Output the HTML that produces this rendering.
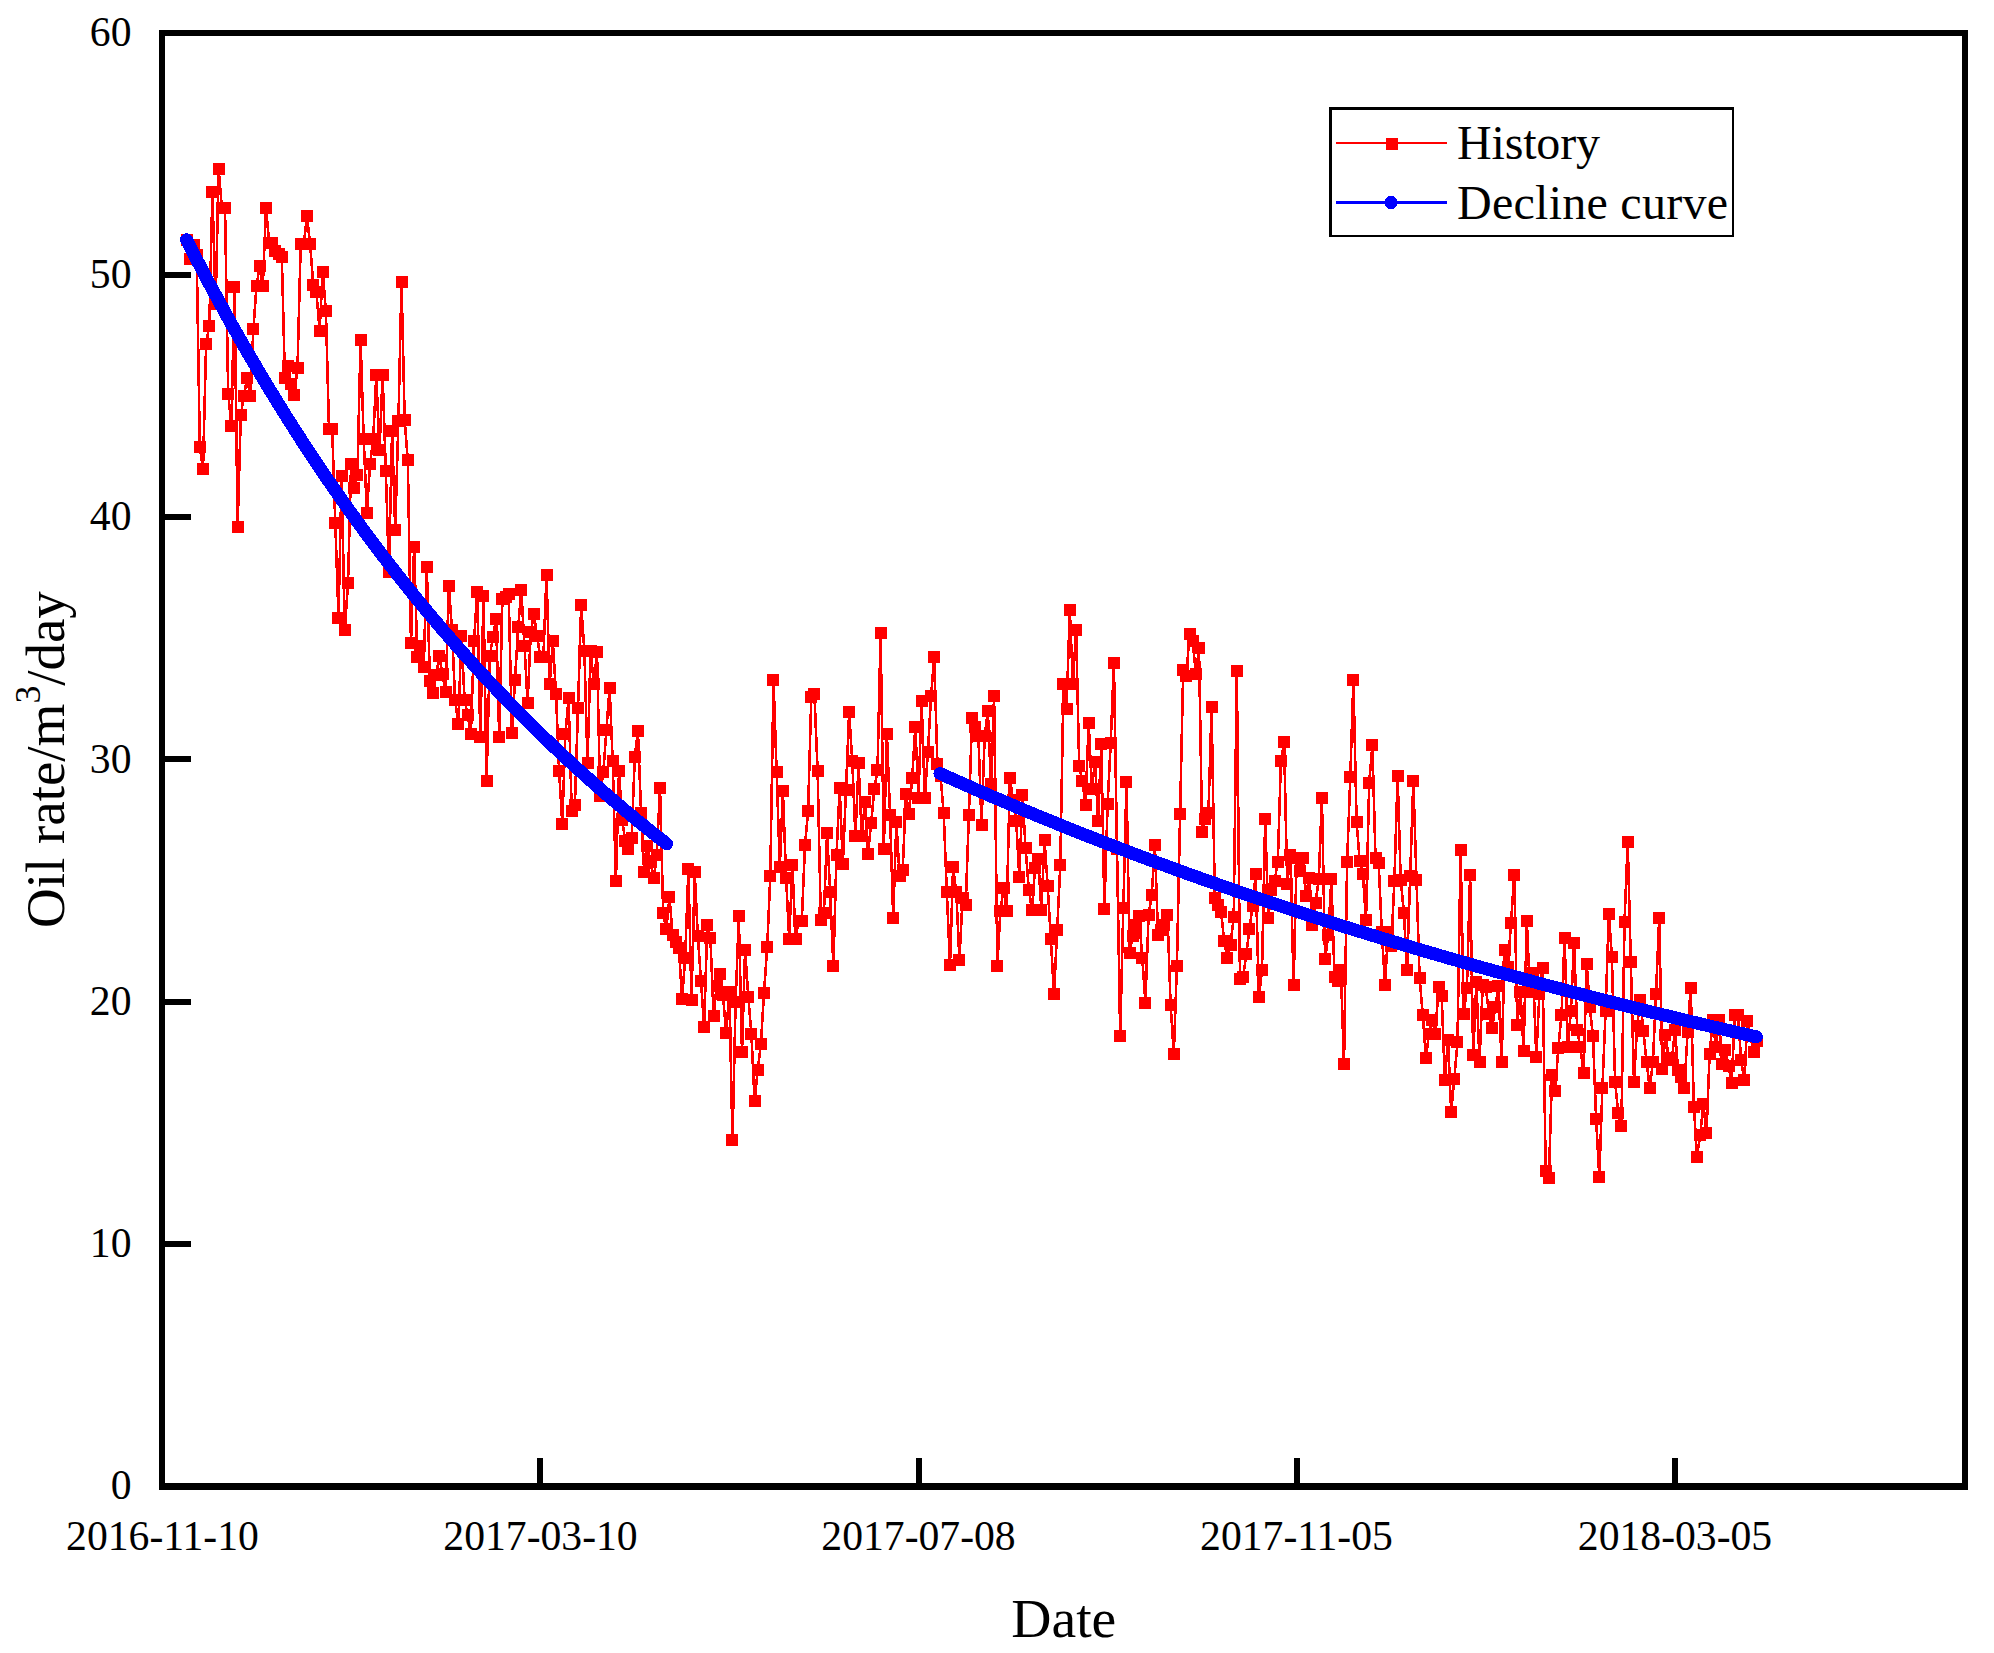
<!DOCTYPE html>
<html><head><meta charset="utf-8"><title>Oil rate decline curve</title>
<style>
html,body{margin:0;padding:0;background:#fff;}
svg{display:block;}
text{font-family:"Liberation Serif",serif;fill:#000;}
</style></head>
<body>
<svg width="1994" height="1653" viewBox="0 0 1994 1653">
<rect width="1994" height="1653" fill="#fff"/>
<g shape-rendering="crispEdges">
<polyline points="187.2,240 190.4,258.9 193.5,245.3 196.7,255.1 199.8,447.2 203,468.9 206.1,344 209.3,326.2 212.4,192.3 215.6,304.5 218.7,169.4 221.9,207.9 225,207.9 228.2,394.2 231.3,425.5 234.5,286.9 237.6,526.9 240.8,415 243.9,395.7 247.1,378.3 250.2,395.7 253.4,328.9 256.5,285.9 259.7,266 262.8,285.9 266,207.9 269.2,243.3 272.3,243.3 275.5,250.6 278.6,254.3 281.8,256.6 284.9,378.3 288.1,365.9 291.2,383.6 294.4,395.3 297.5,367.8 300.7,243.9 303.8,243.9 307,216.1 310.1,243.9 313.3,285 316.4,291.8 319.6,330.7 322.7,271.9 325.9,311 329,429 332.2,429 335.3,522.8 338.5,617.6 341.6,475.9 344.8,629.7 348,583.1 351.1,464.1 354.3,488 357.4,474.7 360.6,339.9 363.7,439.1 366.9,512.9 370,464.1 373.2,439.1 376.3,374.9 379.5,450.5 382.6,374.9 385.8,470.9 388.9,571.5 392.1,430.8 395.2,529.9 398.4,421 401.5,281.9 404.7,420.2 407.8,460.3 411,642.8 414.1,546.8 417.3,657.2 420.4,645.9 423.6,667 426.8,566.9 429.9,681.4 433.1,692.7 436.2,674.6 439.4,656.4 442.5,674.2 445.7,692 448.8,586.1 452,629.8 455.1,700.3 458.3,723.7 461.4,635.9 464.6,700.3 467.7,715.4 470.9,733.6 474,641.3 477.2,592.2 480.3,736.6 483.5,596 486.6,780.7 489.8,655.7 492.9,637.3 496.1,618.9 499.2,736.6 502.4,599 505.6,596.6 508.7,594.1 511.9,732.8 515,679.9 518.2,626.9 521.3,589.9 524.5,646.4 527.6,702.9 530.8,632.2 533.9,614.1 537.1,636 540.2,656.7 543.4,656.7 546.5,575.1 549.7,683.7 552.8,641 556,693.9 559.1,771.4 562.3,823.7 565.4,734.3 568.6,698 571.7,810.8 574.9,805.1 578,707.5 581.2,605 584.4,651.1 587.5,762.6 590.7,651.1 593.8,683.7 597,651.9 600.1,795.7 603.3,772.2 606.4,730 609.6,687.9 612.7,760.8 615.9,881.1 619,771.4 622.2,819.9 625.3,841.1 628.5,848.6 631.6,838 634.8,757 637.9,730.8 641.1,813.1 644.2,872.1 647.4,845.6 650.5,861.9 653.7,878.1 656.8,854.7 660,788.1 663.2,913.4 666.3,928.8 669.5,897 672.6,934.8 675.8,942.4 678.9,948.4 682.1,999.1 685.2,957.5 688.4,869 691.5,999.8 694.7,872.1 697.8,936.3 701,980.9 704.1,1026.8 707.3,925 710.4,937.9 713.6,1015.8 716.7,985.6 719.9,974.1 723,995.2 726.2,1033.3 729.3,992 732.5,1140.3 735.6,1002.2 738.8,915.9 742,1051.8 745.1,949.9 748.3,996.8 751.4,1033.8 754.6,1100.9 757.7,1070.4 760.9,1043.9 764,993 767.2,946.9 770.3,875.9 773.5,680 776.6,771.5 779.8,867 782.9,791 786.1,877.7 789.2,938.9 792.4,865 795.5,938.9 798.7,920.9 801.8,920.9 805,844.9 808.1,810.8 811.3,696.8 814.4,694.1 817.6,770.6 820.8,919.7 823.9,912.9 827.1,833 830.2,892.5 833.4,966.3 836.5,854.9 839.7,788.1 842.8,864.5 846,790 849.1,712.5 852.3,761.4 855.4,836.5 858.6,763.2 861.7,836.2 864.9,802.2 868,853.9 871.2,822.6 874.3,788.9 877.5,770.2 880.6,632.9 883.8,848.6 886.9,733.9 890.1,815.1 893.2,917.9 896.4,821.9 899.6,875.9 902.7,870 905.9,793.9 909,813.9 912.2,778 915.3,726.6 918.5,797.7 921.6,700.9 924.8,797.7 927.9,751.6 931.1,696.1 934.2,657 937.4,763.7 940.5,775.8 943.7,812.8 946.8,892.1 950,964.8 953.1,867.2 956.3,892.1 959.4,959.8 962.6,897.8 965.7,905.1 968.9,815.1 972,718 975.2,726.8 978.4,735.7 981.5,824.9 984.7,735.7 987.8,710.7 991,784.1 994.1,696.1 997.3,965.9 1000.4,911 1003.6,888 1006.7,911 1009.9,778 1013,799.6 1016.2,821.1 1019.3,876.9 1022.5,795.4 1025.6,848.3 1028.8,889.8 1031.9,909.9 1035.1,867.6 1038.2,858.9 1041.4,910.1 1044.5,840 1047.7,886 1050.8,939.1 1054,993.9 1057.2,929.5 1060.3,865.2 1063.5,683.8 1066.6,709 1069.8,610 1072.9,683.5 1076.1,630.1 1079.2,765.9 1082.4,780.8 1085.5,804.7 1088.7,723.1 1091.8,788.9 1095,761.9 1098.1,820.6 1101.3,743.9 1104.4,908.9 1107.6,804 1110.7,743.2 1113.9,662.9 1117,849.4 1120.2,1035.9 1123.3,908.5 1126.5,782 1129.6,952.9 1132.8,935.7 1136,924.8 1139.1,916.1 1142.3,958.1 1145.4,1002.9 1148.6,914.8 1151.7,895 1154.9,845.1 1158,935.1 1161.2,930.2 1164.3,925.3 1167.5,915 1170.6,1005 1173.8,1053.8 1176.9,965.8 1180.1,813.8 1183.2,670.1 1186.4,676.2 1189.5,633.9 1192.7,640.7 1195.8,673.9 1199,648.2 1202.1,832.5 1205.3,819.1 1208.4,813 1211.6,707.2 1214.8,898 1217.9,905 1221.1,912 1224.2,941.1 1227.4,957.8 1230.5,944.9 1233.7,916.9 1236.8,670.9 1240,978.9 1243.1,977.4 1246.3,954 1249.4,929 1252.6,905.6 1255.7,873.9 1258.9,997.1 1262,969.9 1265.2,819.1 1268.3,917.7 1271.5,890.5 1274.6,880.7 1277.8,862.1 1280.9,760.9 1284.1,742 1287.2,883.7 1290.4,855 1293.6,985 1296.7,858 1299.9,870.8 1303,858 1306.2,896.5 1309.3,878.4 1312.5,925.3 1315.6,902.6 1318.8,878.7 1321.9,797.9 1325.1,959.3 1328.2,935.4 1331.4,878.9 1334.5,977.1 1337.7,981.1 1340.8,969.8 1344,1063.6 1347.1,862.2 1350.3,777 1353.4,679.9 1356.6,821.9 1359.7,860.9 1362.9,874 1366,919.9 1369.2,782.8 1372.4,745 1375.5,857.9 1378.7,862.9 1381.8,932 1385,984.9 1388.1,932 1391.3,945.6 1394.4,880.9 1397.6,776 1400.7,879.8 1403.9,912.6 1407,969.8 1410.2,876.2 1413.3,780.8 1416.5,879.5 1419.6,978.1 1422.8,1015.2 1425.9,1058 1429.1,1033.6 1432.2,1020 1435.4,1033.6 1438.5,987.2 1441.7,995.8 1444.8,1079.9 1448,1040.1 1451.2,1111.5 1454.3,1078.7 1457.5,1041.9 1460.6,849.9 1463.8,1014 1466.9,987.9 1470.1,875.1 1473.2,1054.8 1476.4,981.9 1479.5,1062 1482.7,984.9 1485.8,987.2 1489,1013.7 1492.1,1028 1495.3,1007.2 1498.4,986.4 1501.6,1062 1504.7,950.1 1507.9,966.8 1511,922.9 1514.2,875.1 1517.3,1025 1520.5,991.7 1523.6,1050.7 1526.8,921 1530,992.5 1533.1,972.8 1536.3,1056.9 1539.4,994 1542.6,968 1545.7,1170.9 1548.9,1177.7 1552,1074.9 1555.2,1090.8 1558.3,1048 1561.5,1014.8 1564.6,938 1567.8,1047.2 1570.9,1010.7 1574.1,943 1577.2,1030.3 1580.4,1047.1 1583.5,1072.8 1586.7,964.2 1589.8,1007.1 1593,1036.5 1596.1,1119 1599.3,1176.9 1602.4,1087.7 1605.6,1010.9 1608.8,913.9 1611.9,957 1615.1,1082 1618.2,1112.7 1621.4,1125.8 1624.5,921.9 1627.7,841.9 1630.8,961.8 1634,1081.7 1637.1,1025.8 1640.3,1000.2 1643.4,1031.2 1646.6,1062.3 1649.7,1087.7 1652.9,1062 1656,993.8 1659.2,918.1 1662.3,1068.8 1665.5,1034.9 1668.6,1057.5 1671.8,1060.5 1674.9,1030.4 1678.1,1069.6 1681.2,1077.1 1684.4,1087.7 1687.6,1032.2 1690.7,987.8 1693.9,1106.6 1697,1156.8 1700.2,1134.6 1703.3,1103.9 1706.5,1133.1 1709.6,1054.4 1712.8,1019.9 1715.9,1046.9 1719.1,1019.9 1722.2,1063.8 1725.4,1049.9 1728.5,1066.4 1731.7,1082.9 1734.8,1015.2 1738,1014.9 1741.1,1059.7 1744.3,1079.8 1747.4,1020.7 1750.6,1036.5 1753.7,1052.2 1756.9,1040.8" fill="none" stroke="#f00" stroke-width="2.6" stroke-linejoin="round"/>
<path d="M181 234h12v12h-12zM184 253h12v12h-12zM188 239h12v12h-12zM191 249h12v12h-12zM194 441h12v12h-12zM197 463h12v12h-12zM200 338h12v12h-12zM203 320h12v12h-12zM206 186h12v12h-12zM210 298h12v12h-12zM213 163h12v12h-12zM216 202h12v12h-12zM219 202h12v12h-12zM222 388h12v12h-12zM225 420h12v12h-12zM228 281h12v12h-12zM232 521h12v12h-12zM235 409h12v12h-12zM238 390h12v12h-12zM241 372h12v12h-12zM244 390h12v12h-12zM247 323h12v12h-12zM251 280h12v12h-12zM254 260h12v12h-12zM257 280h12v12h-12zM260 202h12v12h-12zM263 237h12v12h-12zM266 237h12v12h-12zM269 245h12v12h-12zM273 248h12v12h-12zM276 251h12v12h-12zM279 372h12v12h-12zM282 360h12v12h-12zM285 378h12v12h-12zM288 389h12v12h-12zM292 362h12v12h-12zM295 238h12v12h-12zM298 238h12v12h-12zM301 210h12v12h-12zM304 238h12v12h-12zM307 279h12v12h-12zM310 286h12v12h-12zM314 325h12v12h-12zM317 266h12v12h-12zM320 305h12v12h-12zM323 423h12v12h-12zM326 423h12v12h-12zM329 517h12v12h-12zM332 612h12v12h-12zM336 470h12v12h-12zM339 624h12v12h-12zM342 577h12v12h-12zM345 458h12v12h-12zM348 482h12v12h-12zM351 469h12v12h-12zM355 334h12v12h-12zM358 433h12v12h-12zM361 507h12v12h-12zM364 458h12v12h-12zM367 433h12v12h-12zM370 369h12v12h-12zM373 444h12v12h-12zM377 369h12v12h-12zM380 465h12v12h-12zM383 566h12v12h-12zM386 425h12v12h-12zM389 524h12v12h-12zM392 415h12v12h-12zM396 276h12v12h-12zM399 414h12v12h-12zM402 454h12v12h-12zM405 637h12v12h-12zM408 541h12v12h-12zM411 651h12v12h-12zM414 640h12v12h-12zM418 661h12v12h-12zM421 561h12v12h-12zM424 675h12v12h-12zM427 687h12v12h-12zM430 669h12v12h-12zM433 650h12v12h-12zM437 668h12v12h-12zM440 686h12v12h-12zM443 580h12v12h-12zM446 624h12v12h-12zM449 694h12v12h-12zM452 718h12v12h-12zM455 630h12v12h-12zM459 694h12v12h-12zM462 709h12v12h-12zM465 728h12v12h-12zM468 635h12v12h-12zM471 586h12v12h-12zM474 731h12v12h-12zM477 590h12v12h-12zM481 775h12v12h-12zM484 650h12v12h-12zM487 631h12v12h-12zM490 613h12v12h-12zM493 731h12v12h-12zM496 593h12v12h-12zM500 591h12v12h-12zM503 588h12v12h-12zM506 727h12v12h-12zM509 674h12v12h-12zM512 621h12v12h-12zM515 584h12v12h-12zM518 640h12v12h-12zM522 697h12v12h-12zM525 626h12v12h-12zM528 608h12v12h-12zM531 630h12v12h-12zM534 651h12v12h-12zM537 651h12v12h-12zM541 569h12v12h-12zM544 678h12v12h-12zM547 635h12v12h-12zM550 688h12v12h-12zM553 765h12v12h-12zM556 818h12v12h-12zM559 728h12v12h-12zM563 692h12v12h-12zM566 805h12v12h-12zM569 799h12v12h-12zM572 702h12v12h-12zM575 599h12v12h-12zM578 645h12v12h-12zM582 757h12v12h-12zM585 645h12v12h-12zM588 678h12v12h-12zM591 646h12v12h-12zM594 790h12v12h-12zM597 766h12v12h-12zM600 724h12v12h-12zM604 682h12v12h-12zM607 755h12v12h-12zM610 875h12v12h-12zM613 765h12v12h-12zM616 814h12v12h-12zM619 835h12v12h-12zM622 843h12v12h-12zM626 832h12v12h-12zM629 751h12v12h-12zM632 725h12v12h-12zM635 807h12v12h-12zM638 866h12v12h-12zM641 840h12v12h-12zM645 856h12v12h-12zM648 872h12v12h-12zM651 849h12v12h-12zM654 782h12v12h-12zM657 907h12v12h-12zM660 923h12v12h-12zM663 891h12v12h-12zM667 929h12v12h-12zM670 936h12v12h-12zM673 942h12v12h-12zM676 993h12v12h-12zM679 952h12v12h-12zM682 863h12v12h-12zM686 994h12v12h-12zM689 866h12v12h-12zM692 930h12v12h-12zM695 975h12v12h-12zM698 1021h12v12h-12zM701 919h12v12h-12zM704 932h12v12h-12zM708 1010h12v12h-12zM711 980h12v12h-12zM714 968h12v12h-12zM717 989h12v12h-12zM720 1027h12v12h-12zM723 986h12v12h-12zM726 1134h12v12h-12zM730 996h12v12h-12zM733 910h12v12h-12zM736 1046h12v12h-12zM739 944h12v12h-12zM742 991h12v12h-12zM745 1028h12v12h-12zM749 1095h12v12h-12zM752 1064h12v12h-12zM755 1038h12v12h-12zM758 987h12v12h-12zM761 941h12v12h-12zM764 870h12v12h-12zM767 674h12v12h-12zM771 766h12v12h-12zM774 861h12v12h-12zM777 785h12v12h-12zM780 872h12v12h-12zM783 933h12v12h-12zM786 859h12v12h-12zM790 933h12v12h-12zM793 915h12v12h-12zM796 915h12v12h-12zM799 839h12v12h-12zM802 805h12v12h-12zM805 691h12v12h-12zM808 688h12v12h-12zM812 765h12v12h-12zM815 914h12v12h-12zM818 907h12v12h-12zM821 827h12v12h-12zM824 886h12v12h-12zM827 960h12v12h-12zM831 849h12v12h-12zM834 782h12v12h-12zM837 858h12v12h-12zM840 784h12v12h-12zM843 706h12v12h-12zM846 755h12v12h-12zM849 830h12v12h-12zM853 757h12v12h-12zM856 830h12v12h-12zM859 796h12v12h-12zM862 848h12v12h-12zM865 817h12v12h-12zM868 783h12v12h-12zM871 764h12v12h-12zM875 627h12v12h-12zM878 843h12v12h-12zM881 728h12v12h-12zM884 809h12v12h-12zM887 912h12v12h-12zM890 816h12v12h-12zM894 870h12v12h-12zM897 864h12v12h-12zM900 788h12v12h-12zM903 808h12v12h-12zM906 772h12v12h-12zM909 721h12v12h-12zM912 792h12v12h-12zM916 695h12v12h-12zM919 792h12v12h-12zM922 746h12v12h-12zM925 690h12v12h-12zM928 651h12v12h-12zM931 758h12v12h-12zM935 770h12v12h-12zM938 807h12v12h-12zM941 886h12v12h-12zM944 959h12v12h-12zM947 861h12v12h-12zM950 886h12v12h-12zM953 954h12v12h-12zM957 892h12v12h-12zM960 899h12v12h-12zM963 809h12v12h-12zM966 712h12v12h-12zM969 721h12v12h-12zM972 730h12v12h-12zM976 819h12v12h-12zM979 730h12v12h-12zM982 705h12v12h-12zM985 778h12v12h-12zM988 690h12v12h-12zM991 960h12v12h-12zM994 905h12v12h-12zM998 882h12v12h-12zM1001 905h12v12h-12zM1004 772h12v12h-12zM1007 794h12v12h-12zM1010 815h12v12h-12zM1013 871h12v12h-12zM1016 789h12v12h-12zM1020 842h12v12h-12zM1023 884h12v12h-12zM1026 904h12v12h-12zM1029 862h12v12h-12zM1032 853h12v12h-12zM1035 904h12v12h-12zM1039 834h12v12h-12zM1042 880h12v12h-12zM1045 933h12v12h-12zM1048 988h12v12h-12zM1051 924h12v12h-12zM1054 859h12v12h-12zM1057 678h12v12h-12zM1061 703h12v12h-12zM1064 604h12v12h-12zM1067 678h12v12h-12zM1070 624h12v12h-12zM1073 760h12v12h-12zM1076 775h12v12h-12zM1080 799h12v12h-12zM1083 717h12v12h-12zM1086 783h12v12h-12zM1089 756h12v12h-12zM1092 815h12v12h-12zM1095 738h12v12h-12zM1098 903h12v12h-12zM1102 798h12v12h-12zM1105 737h12v12h-12zM1108 657h12v12h-12zM1111 843h12v12h-12zM1114 1030h12v12h-12zM1117 902h12v12h-12zM1120 776h12v12h-12zM1124 947h12v12h-12zM1127 930h12v12h-12zM1130 919h12v12h-12zM1133 910h12v12h-12zM1136 952h12v12h-12zM1139 997h12v12h-12zM1143 909h12v12h-12zM1146 889h12v12h-12zM1149 839h12v12h-12zM1152 929h12v12h-12zM1155 924h12v12h-12zM1158 919h12v12h-12zM1161 909h12v12h-12zM1165 999h12v12h-12zM1168 1048h12v12h-12zM1171 960h12v12h-12zM1174 808h12v12h-12zM1177 664h12v12h-12zM1180 670h12v12h-12zM1184 628h12v12h-12zM1187 635h12v12h-12zM1190 668h12v12h-12zM1193 642h12v12h-12zM1196 826h12v12h-12zM1199 813h12v12h-12zM1202 807h12v12h-12zM1206 701h12v12h-12zM1209 892h12v12h-12zM1212 899h12v12h-12zM1215 906h12v12h-12zM1218 935h12v12h-12zM1221 952h12v12h-12zM1225 939h12v12h-12zM1228 911h12v12h-12zM1231 665h12v12h-12zM1234 973h12v12h-12zM1237 971h12v12h-12zM1240 948h12v12h-12zM1243 923h12v12h-12zM1247 900h12v12h-12zM1250 868h12v12h-12zM1253 991h12v12h-12zM1256 964h12v12h-12zM1259 813h12v12h-12zM1262 912h12v12h-12zM1265 884h12v12h-12zM1269 875h12v12h-12zM1272 856h12v12h-12zM1275 755h12v12h-12zM1278 736h12v12h-12zM1281 878h12v12h-12zM1284 849h12v12h-12zM1288 979h12v12h-12zM1291 852h12v12h-12zM1294 865h12v12h-12zM1297 852h12v12h-12zM1300 890h12v12h-12zM1303 872h12v12h-12zM1306 919h12v12h-12zM1310 897h12v12h-12zM1313 873h12v12h-12zM1316 792h12v12h-12zM1319 953h12v12h-12zM1322 929h12v12h-12zM1325 873h12v12h-12zM1329 971h12v12h-12zM1332 975h12v12h-12zM1335 964h12v12h-12zM1338 1058h12v12h-12zM1341 856h12v12h-12zM1344 771h12v12h-12zM1347 674h12v12h-12zM1351 816h12v12h-12zM1354 855h12v12h-12zM1357 868h12v12h-12zM1360 914h12v12h-12zM1363 777h12v12h-12zM1366 739h12v12h-12zM1370 852h12v12h-12zM1373 857h12v12h-12zM1376 926h12v12h-12zM1379 979h12v12h-12zM1382 926h12v12h-12zM1385 940h12v12h-12zM1388 875h12v12h-12zM1392 770h12v12h-12zM1395 874h12v12h-12zM1398 907h12v12h-12zM1401 964h12v12h-12zM1404 870h12v12h-12zM1407 775h12v12h-12zM1410 874h12v12h-12zM1414 972h12v12h-12zM1417 1009h12v12h-12zM1420 1052h12v12h-12zM1423 1028h12v12h-12zM1426 1014h12v12h-12zM1429 1028h12v12h-12zM1433 981h12v12h-12zM1436 990h12v12h-12zM1439 1074h12v12h-12zM1442 1034h12v12h-12zM1445 1106h12v12h-12zM1448 1073h12v12h-12zM1451 1036h12v12h-12zM1455 844h12v12h-12zM1458 1008h12v12h-12zM1461 982h12v12h-12zM1464 869h12v12h-12zM1467 1049h12v12h-12zM1470 976h12v12h-12zM1474 1056h12v12h-12zM1477 979h12v12h-12zM1480 981h12v12h-12zM1483 1008h12v12h-12zM1486 1022h12v12h-12zM1489 1001h12v12h-12zM1492 980h12v12h-12zM1496 1056h12v12h-12zM1499 944h12v12h-12zM1502 961h12v12h-12zM1505 917h12v12h-12zM1508 869h12v12h-12zM1511 1019h12v12h-12zM1514 986h12v12h-12zM1518 1045h12v12h-12zM1521 915h12v12h-12zM1524 986h12v12h-12zM1527 967h12v12h-12zM1530 1051h12v12h-12zM1533 988h12v12h-12zM1537 962h12v12h-12zM1540 1165h12v12h-12zM1543 1172h12v12h-12zM1546 1069h12v12h-12zM1549 1085h12v12h-12zM1552 1042h12v12h-12zM1555 1009h12v12h-12zM1559 932h12v12h-12zM1562 1041h12v12h-12zM1565 1005h12v12h-12zM1568 937h12v12h-12zM1571 1024h12v12h-12zM1574 1041h12v12h-12zM1578 1067h12v12h-12zM1581 958h12v12h-12zM1584 1001h12v12h-12zM1587 1030h12v12h-12zM1590 1113h12v12h-12zM1593 1171h12v12h-12zM1596 1082h12v12h-12zM1600 1005h12v12h-12zM1603 908h12v12h-12zM1606 951h12v12h-12zM1609 1076h12v12h-12zM1612 1107h12v12h-12zM1615 1120h12v12h-12zM1619 916h12v12h-12zM1622 836h12v12h-12zM1625 956h12v12h-12zM1628 1076h12v12h-12zM1631 1020h12v12h-12zM1634 994h12v12h-12zM1637 1025h12v12h-12zM1641 1056h12v12h-12zM1644 1082h12v12h-12zM1647 1056h12v12h-12zM1650 988h12v12h-12zM1653 912h12v12h-12zM1656 1063h12v12h-12zM1659 1029h12v12h-12zM1663 1052h12v12h-12zM1666 1054h12v12h-12zM1669 1024h12v12h-12zM1672 1064h12v12h-12zM1675 1071h12v12h-12zM1678 1082h12v12h-12zM1682 1026h12v12h-12zM1685 982h12v12h-12zM1688 1101h12v12h-12zM1691 1151h12v12h-12zM1694 1129h12v12h-12zM1697 1098h12v12h-12zM1700 1127h12v12h-12zM1704 1048h12v12h-12zM1707 1014h12v12h-12zM1710 1041h12v12h-12zM1713 1014h12v12h-12zM1716 1058h12v12h-12zM1719 1044h12v12h-12zM1723 1060h12v12h-12zM1726 1077h12v12h-12zM1729 1009h12v12h-12zM1732 1009h12v12h-12zM1735 1054h12v12h-12zM1738 1074h12v12h-12zM1741 1015h12v12h-12zM1745 1030h12v12h-12zM1748 1046h12v12h-12zM1751 1035h12v12h-12z" fill="#f00"/>
<polyline points="186.5,239.7 188.9,244.5 191.3,249.2 193.7,253.9 196.2,258.5 198.6,263.2 201,267.8 203.4,272.4 205.8,276.9 208.2,281.5 210.6,286 213,290.5 215.5,294.9 217.9,299.4 220.3,303.8 222.7,308.2 225.1,312.6 227.5,316.9 229.9,321.3 232.3,325.6 234.8,329.9 237.2,334.1 239.6,338.4 242,342.6 244.4,346.8 246.8,351 249.2,355.1 251.6,359.3 254.1,363.4 256.5,367.5 258.9,371.6 261.3,375.6 263.7,379.6 266.1,383.7 268.5,387.6 270.9,391.6 273.4,395.6 275.8,399.5 278.2,403.4 280.6,407.3 283,411.2 285.4,415 287.8,418.9 290.2,422.7 292.7,426.5 295.1,430.3 297.5,434 299.9,437.7 302.3,441.5 304.7,445.2 307.1,448.9 309.5,452.5 312,456.2 314.4,459.8 316.8,463.4 319.2,467 321.6,470.6 324,474.1 326.4,477.7 328.8,481.2 331.3,484.7 333.7,488.2 336.1,491.7 338.5,495.1 340.9,498.6 343.3,502 345.7,505.4 348.1,508.8 350.6,512.2 353,515.5 355.4,518.9 357.8,522.2 360.2,525.5 362.6,528.8 365,532.1 367.4,535.3 369.9,538.6 372.3,541.8 374.7,545 377.1,548.2 379.5,551.4 381.9,554.6 384.3,557.7 386.7,560.9 389.2,564 391.6,567.1 394,570.2 396.4,573.3 398.8,576.4 401.2,579.4 403.6,582.4 406,585.5 408.5,588.5 410.9,591.5 413.3,594.5 415.7,597.4 418.1,600.4 420.5,603.3 422.9,606.2 425.3,609.2 427.8,612.1 430.2,614.9 432.6,617.8 435,620.7 437.4,623.5 439.8,626.4 442.2,629.2 444.6,632 447.1,634.8 449.5,637.6 451.9,640.3 454.3,643.1 456.7,645.8 459.1,648.6 461.5,651.3 463.9,654 466.4,656.7 468.8,659.4 471.2,662 473.6,664.7 476,667.4 478.4,670 480.8,672.6 483.2,675.2 485.7,677.8 488.1,680.4 490.5,683 492.9,685.6 495.3,688.1 497.7,690.6 500.1,693.2 502.5,695.7 505,698.2 507.4,700.7 509.8,703.2 512.2,705.7 514.6,708.1 517,710.6 519.4,713 521.8,715.5 524.3,717.9 526.7,720.3 529.1,722.7 531.5,725.1 533.9,727.5 536.3,729.8 538.7,732.2 541.1,734.5 543.6,736.9 546,739.2 548.4,741.5 550.8,743.8 553.2,746.1 555.6,748.4 558,750.7 560.4,753 562.9,755.2 565.3,757.5 567.7,759.7 570.1,761.9 572.5,764.2 574.9,766.4 577.3,768.6 579.7,770.8 582.2,772.9 584.6,775.1 587,777.3 589.4,779.4 591.8,781.6 594.2,783.7 596.6,785.8 599,788 601.5,790.1 603.9,792.2 606.3,794.3 608.7,796.4 611.1,798.4 613.5,800.5 615.9,802.5 618.3,804.6 620.8,806.6 623.2,808.7 625.6,810.7 628,812.7 630.4,814.7 632.8,816.7 635.2,818.7 637.6,820.7 640.1,822.7 642.5,824.6 644.9,826.6 647.3,828.5 649.7,830.5 652.1,832.4 654.5,834.3 656.9,836.2 659.4,838.1 661.8,840 664.2,841.9 666.6,843.8" fill="none" stroke="#00f" stroke-width="13" stroke-linecap="round" stroke-linejoin="round"/>
<polyline points="940,773.5 944.1,775.3 948.2,777.2 952.3,779 956.4,780.9 960.5,782.7 964.6,784.5 968.7,786.3 972.8,788.1 976.9,789.9 981,791.7 985.1,793.5 989.2,795.3 993.3,797.1 997.4,798.8 1001.5,800.6 1005.6,802.3 1009.7,804.1 1013.8,805.8 1017.9,807.5 1022,809.3 1026.1,811 1030.2,812.7 1034.3,814.4 1038.4,816.1 1042.6,817.8 1046.7,819.5 1050.8,821.2 1054.9,822.8 1059,824.5 1063.1,826.2 1067.2,827.8 1071.3,829.5 1075.4,831.1 1079.5,832.7 1083.6,834.4 1087.7,836 1091.8,837.6 1095.9,839.2 1100,840.8 1104.1,842.4 1108.2,844 1112.3,845.6 1116.4,847.2 1120.5,848.8 1124.6,850.3 1128.7,851.9 1132.8,853.5 1136.9,855 1141,856.6 1145.1,858.1 1149.2,859.6 1153.3,861.2 1157.4,862.7 1161.5,864.2 1165.6,865.7 1169.7,867.2 1173.8,868.7 1177.9,870.2 1182,871.7 1186.1,873.2 1190.2,874.7 1194.3,876.2 1198.4,877.6 1202.5,879.1 1206.6,880.5 1210.7,882 1214.8,883.4 1218.9,884.9 1223,886.3 1227.1,887.8 1231.2,889.2 1235.3,890.6 1239.4,892 1243.5,893.4 1247.7,894.8 1251.8,896.2 1255.9,897.6 1260,899 1264.1,900.4 1268.2,901.8 1272.3,903.2 1276.4,904.6 1280.5,905.9 1284.6,907.3 1288.7,908.6 1292.8,910 1296.9,911.3 1301,912.7 1305.1,914 1309.2,915.4 1313.3,916.7 1317.4,918 1321.5,919.3 1325.6,920.7 1329.7,922 1333.8,923.3 1337.9,924.6 1342,925.9 1346.1,927.2 1350.2,928.4 1354.3,929.7 1358.4,931 1362.5,932.3 1366.6,933.6 1370.7,934.8 1374.8,936.1 1378.9,937.3 1383,938.6 1387.1,939.8 1391.2,941.1 1395.3,942.3 1399.4,943.6 1403.5,944.8 1407.6,946 1411.7,947.2 1415.8,948.5 1419.9,949.7 1424,950.9 1428.1,952.1 1432.2,953.3 1436.3,954.5 1440.4,955.7 1444.5,956.9 1448.6,958.1 1452.8,959.3 1456.9,960.4 1461,961.6 1465.1,962.8 1469.2,963.9 1473.3,965.1 1477.4,966.3 1481.5,967.4 1485.6,968.6 1489.7,969.7 1493.8,970.9 1497.9,972 1502,973.1 1506.1,974.3 1510.2,975.4 1514.3,976.5 1518.4,977.6 1522.5,978.8 1526.6,979.9 1530.7,981 1534.8,982.1 1538.9,983.2 1543,984.3 1547.1,985.4 1551.2,986.5 1555.3,987.6 1559.4,988.6 1563.5,989.7 1567.6,990.8 1571.7,991.9 1575.8,992.9 1579.9,994 1584,995.1 1588.1,996.1 1592.2,997.2 1596.3,998.2 1600.4,999.3 1604.5,1000.3 1608.6,1001.4 1612.7,1002.4 1616.8,1003.5 1620.9,1004.5 1625,1005.5 1629.1,1006.6 1633.2,1007.6 1637.3,1008.6 1641.4,1009.6 1645.5,1010.6 1649.6,1011.6 1653.7,1012.6 1657.9,1013.6 1662,1014.6 1666.1,1015.6 1670.2,1016.6 1674.3,1017.6 1678.4,1018.6 1682.5,1019.6 1686.6,1020.6 1690.7,1021.6 1694.8,1022.5 1698.9,1023.5 1703,1024.5 1707.1,1025.4 1711.2,1026.4 1715.3,1027.4 1719.4,1028.3 1723.5,1029.3 1727.6,1030.2 1731.7,1031.2 1735.8,1032.1 1739.9,1033.1 1744,1034 1748.1,1034.9 1752.2,1035.9 1756.3,1036.8" fill="none" stroke="#00f" stroke-width="13" stroke-linecap="round" stroke-linejoin="round"/>
</g>
<g shape-rendering="crispEdges" fill="#000">
<rect x="159" y="30" width="1809" height="6"/><rect x="159" y="1483" width="1809" height="7"/><rect x="159" y="30" width="6" height="1460"/><rect x="1962" y="30" width="6" height="1460"/>
<rect x="162" y="1241" width="29" height="6"/><rect x="162" y="999" width="29" height="6"/><rect x="162" y="756" width="29" height="6"/><rect x="162" y="514" width="29" height="6"/><rect x="162" y="272" width="29" height="6"/>
<rect x="537" y="1458" width="6" height="27"/><rect x="916" y="1458" width="6" height="27"/><rect x="1294" y="1458" width="6" height="27"/><rect x="1672" y="1458" width="6" height="27"/>
</g>
<g font-size="41.67">
<text x="131.5" y="1499.2" text-anchor="end">0</text><text x="131.5" y="1257" text-anchor="end">10</text><text x="131.5" y="1014.7" text-anchor="end">20</text><text x="131.5" y="772.5" text-anchor="end">30</text><text x="131.5" y="530.2" text-anchor="end">40</text><text x="131.5" y="287.9" text-anchor="end">50</text><text x="131.5" y="45.7" text-anchor="end">60</text>
<text x="162.5" y="1549.5" text-anchor="middle">2016-11-10</text><text x="540.5" y="1549.5" text-anchor="middle">2017-03-10</text><text x="918.5" y="1549.5" text-anchor="middle">2017-07-08</text><text x="1296.5" y="1549.5" text-anchor="middle">2017-11-05</text><text x="1675" y="1549.5" text-anchor="middle">2018-03-05</text>
</g>
<text transform="translate(1063.8,1637) scale(1.027,1)" font-size="54.17" text-anchor="middle">Date</text>
<text transform="translate(63.5,928) rotate(-90) scale(1.015,1)" font-size="54.17">Oil rate/m<tspan font-size="35" dy="-23.5">3</tspan><tspan dy="23.5">/day</tspan></text>
<g shape-rendering="crispEdges">
<rect x="1330.25" y="108.25" width="402.5" height="127.5" fill="#fff" stroke="#000" stroke-width="2.5"/>
<rect x="1336" y="141.8" width="111" height="2.3" fill="#f00"/>
<rect x="1386" y="138" width="12" height="12" fill="#f00"/>
<rect x="1336" y="200.8" width="111" height="3.4" fill="#00f"/>
<circle cx="1391" cy="202.5" r="6.5" fill="#00f"/>
</g>
<g font-size="48">
<text x="1457" y="159" textLength="143" lengthAdjust="spacing">History</text>
<text x="1457" y="219" textLength="271" lengthAdjust="spacing">Decline curve</text>
</g>
</svg>
</body></html>
